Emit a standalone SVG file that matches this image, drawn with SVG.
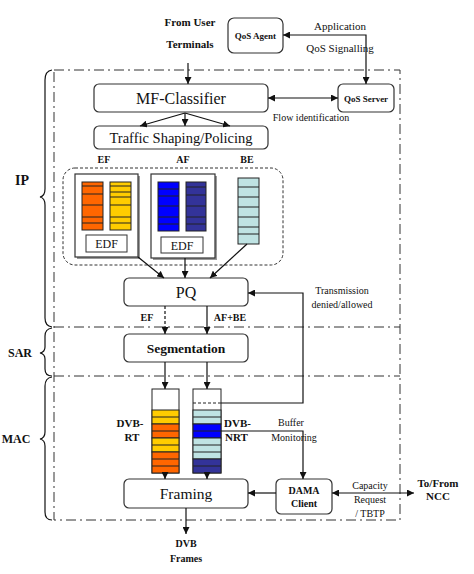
<svg xmlns="http://www.w3.org/2000/svg" width="474" height="574" viewBox="0 0 474 574" font-family="'Liberation Serif', 'Times New Roman', Times, 'DejaVu Serif', serif">
<style>
text{font-family:'Liberation Serif','Times New Roman',Times,'DejaVu Serif',serif;fill:#111;}
.b{font-weight:bold;}
.box{fill:#fff;stroke:#333;stroke-width:1.2;}
.ln{fill:none;stroke:#111;stroke-width:1.2;}
.q{stroke:#222;stroke-width:1;}
.div{fill:none;stroke:#333;stroke-width:1;stroke-dasharray:10,4,2,4;}
</style>
<defs>
<marker id="ah" viewBox="0 0 10 10" refX="10" refY="5" markerWidth="7" markerHeight="7" orient="auto-start-reverse" markerUnits="userSpaceOnUse">
<path d="M0,0 L10,5 L0,10 z" fill="#111"/>
</marker>
</defs>
<rect width="474" height="574" fill="#fff"/>

<g id="layers">
<rect x="54" y="70" width="346" height="450" class="div"/>
<line x1="54" y1="327" x2="400" y2="327" class="div"/>
<line x1="54" y1="376" x2="400" y2="376" class="div"/>
<path d="M52,70 Q45,71 45,80 L45,189 Q45,196 40,197 Q45,198 45,205 L45,318 Q45,326 52,327" class="ln" stroke-width="1"/>
<path d="M52,328 Q45,329 45,336 L45,347 Q45,352 40,353 Q45,354 45,359 L45,369 Q45,376 52,376" class="ln" stroke-width="1"/>
<path d="M52,377 Q45,378 45,386 L45,432 Q45,438 40,439 Q45,440 45,446 L45,512 Q45,520 52,520" class="ln" stroke-width="1"/>
<text x="22" y="185" class="b" font-size="14" text-anchor="middle">IP</text>
<text x="20" y="357" class="b" font-size="12" text-anchor="middle">SAR</text>
<text x="16" y="443" class="b" font-size="12" text-anchor="middle">MAC</text>
</g>

<g id="from-user">
<text x="190" y="26" class="b" font-size="11" text-anchor="middle">From User</text>
<text x="190" y="48" class="b" font-size="11" text-anchor="middle">Terminals</text>
</g>

<g id="qos-agent">
<rect x="228" y="18" width="55" height="35" rx="6" class="box"/>
<text x="255.5" y="39" class="b" font-size="9" text-anchor="middle">QoS Agent</text>
</g>

<g id="mf-classifier">
<rect x="94" y="84" width="174" height="28" rx="5" class="box"/>
<text x="181" y="104" font-size="16" text-anchor="middle">MF-Classifier</text>
</g>

<g id="qos-server">
<rect x="338" y="84" width="56" height="28" rx="5" class="box"/>
<text x="366" y="102" class="b" font-size="9" text-anchor="middle">QoS Server</text>
</g>

<g id="traffic-shaping">
<rect x="94" y="126" width="174" height="23" rx="5" class="box"/>
<text x="181" y="143" font-size="14.5" text-anchor="middle">Traffic Shaping/Policing</text>
</g>

<g id="classes">
<text x="104" y="163" class="b" font-size="10" text-anchor="middle">EF</text>
<text x="183" y="163" class="b" font-size="10" text-anchor="middle">AF</text>
<text x="247" y="163" class="b" font-size="10" text-anchor="middle">BE</text>
<rect x="63" y="168" width="220" height="97" rx="12" fill="none" stroke="#333" stroke-width="1" stroke-dasharray="3,2"/>
</g>

<g id="ef-queues">
<rect x="77" y="176" width="63" height="83" fill="#999"/>
<rect x="75" y="174" width="63" height="83" class="box"/>
<rect x="82" y="182" width="21" height="48" fill="#FF6600" class="q"/>
<path d="M82,186H103M82,194H103M82,205H103M82,217H103M82,223H103" class="q"/>
<rect x="110" y="182" width="21" height="48" fill="#FFCC00" class="q"/>
<path d="M110,186H131M110,192H131M110,197H131M110,205H131M110,217H131M110,223H131" class="q"/>
<rect x="86" y="235" width="41" height="17" fill="#fff" stroke="#333" stroke-width="1"/>
<text x="106.5" y="248" font-size="12" text-anchor="middle">EDF</text>
</g>

<g id="af-queues">
<rect x="153" y="176" width="64" height="84" fill="#999"/>
<rect x="151" y="174" width="64" height="84" class="box"/>
<rect x="158" y="182" width="21" height="49" fill="#0000FF" class="q"/>
<path d="M158,189H179M158,196H179M158,206H179M158,217H179M158,224H179" class="q"/>
<rect x="186" y="182" width="20" height="49" fill="#333399" class="q"/>
<path d="M186,187H206M186,195H206M186,206H206M186,217H206M186,224H206" class="q"/>
<rect x="161" y="237" width="42" height="16" fill="#fff" stroke="#333" stroke-width="1"/>
<text x="182" y="249.5" font-size="12" text-anchor="middle">EDF</text>
</g>

<g id="be-queue">
<rect x="238" y="178" width="21" height="66" fill="#BFE3E3" class="q"/>
<path d="M238,187H259M238,197H259M238,207H259M238,217H259M238,227H259M238,234H259" class="q"/>
</g>

<g id="pq">
<rect x="124" y="278" width="124" height="28" rx="5" class="box"/>
<text x="186" y="298" font-size="16" text-anchor="middle">PQ</text>
</g>

<g id="segmentation">
<rect x="124" y="334" width="124" height="28" rx="5" class="box"/>
<text x="186" y="353" class="b" font-size="13.5" text-anchor="middle">Segmentation</text>
</g>

<g id="dvb-rt">
<rect x="152" y="389" width="27" height="84" fill="#fff" class="q"/>
<rect x="152" y="410" width="27" height="14" fill="#FFCC00" class="q"/>
<rect x="152" y="424" width="27" height="14" fill="#FF6600" class="q"/>
<rect x="152" y="438" width="27" height="14" fill="#FFCC00" class="q"/>
<rect x="152" y="452" width="27" height="21" fill="#FF6600" class="q"/>
<path d="M152,417H179M152,431H179M152,445H179M152,459H179M152,466H179" class="q"/>
<text x="130" y="427" class="b" font-size="11" text-anchor="middle">DVB-</text>
<text x="132" y="441" class="b" font-size="11" text-anchor="middle">RT</text>
</g>

<g id="dvb-nrt">
<rect x="193" y="389" width="28" height="84" fill="#fff" class="q"/>
<line x1="193" y1="403" x2="221" y2="403" stroke="#222" stroke-dasharray="3,2"/>
<rect x="193" y="410" width="28" height="14" fill="#BFE3E3" class="q"/>
<rect x="193" y="424" width="28" height="14" fill="#0000FF" class="q"/>
<rect x="193" y="438" width="28" height="21" fill="#BFE3E3" class="q"/>
<rect x="193" y="459" width="28" height="14" fill="#333399" class="q"/>
<path d="M193,417H221M193,431H221M193,445H221M193,452H221M193,466H221" class="q"/>
<text x="224" y="427" class="b" font-size="11">DVB-</text>
<text x="225" y="441" class="b" font-size="11">NRT</text>
</g>

<g id="framing">
<rect x="124" y="479" width="124" height="29" rx="5" class="box"/>
<text x="186" y="499" font-size="15.5" text-anchor="middle">Framing</text>
</g>

<g id="dama-client">
<rect x="276" y="479" width="56" height="35" rx="5" class="box"/>
<text x="304" y="494" class="b" font-size="10" text-anchor="middle">DAMA</text>
<text x="304" y="507" class="b" font-size="10" text-anchor="middle">Client</text>
</g>

<g id="ncc">
<text x="438" y="487" class="b" font-size="11" text-anchor="middle">To/From</text>
<text x="438" y="500" class="b" font-size="11" text-anchor="middle">NCC</text>
</g>

<g id="dvb-frames">
<text x="186" y="547" class="b" font-size="10" text-anchor="middle">DVB</text>
<text x="186" y="562" class="b" font-size="10" text-anchor="middle">Frames</text>
</g>

<g id="connectors">
<line x1="188" y1="63" x2="188" y2="84" class="ln" marker-end="url(#ah)"/>
<path d="M366,84 L366,35 L283,35" class="ln" stroke-width="1.5" marker-start="url(#ah)" marker-end="url(#ah)"/>
<line x1="268" y1="98" x2="338" y2="98" class="ln" marker-start="url(#ah)" marker-end="url(#ah)"/>
<line x1="185" y1="113" x2="140" y2="126" class="ln" marker-end="url(#ah)"/>
<line x1="185" y1="113" x2="185" y2="126" class="ln" marker-end="url(#ah)"/>
<line x1="185" y1="113" x2="230" y2="126" class="ln" marker-end="url(#ah)"/>
<line x1="138" y1="257" x2="164" y2="278" class="ln" stroke-width="1" marker-end="url(#ah)"/>
<line x1="185" y1="258" x2="185" y2="278" class="ln" stroke-width="1" marker-end="url(#ah)"/>
<line x1="247" y1="244" x2="210" y2="278" class="ln" stroke-width="1" marker-end="url(#ah)"/>
<line x1="165" y1="306" x2="165" y2="334" class="ln" stroke-dasharray="3,2" marker-end="url(#ah)"/>
<line x1="207" y1="306" x2="207" y2="334" class="ln" marker-end="url(#ah)"/>
<line x1="165" y1="362" x2="165" y2="389" class="ln" marker-end="url(#ah)"/>
<line x1="207" y1="362" x2="207" y2="389" class="ln" marker-end="url(#ah)"/>
<line x1="165" y1="473" x2="165" y2="479" class="ln" marker-end="url(#ah)"/>
<line x1="207" y1="473" x2="207" y2="479" class="ln" marker-end="url(#ah)"/>
<path d="M221,403 L303,403 L303,293 L248,293" class="ln" marker-end="url(#ah)"/>
<path d="M221,431 L303,431 L303,479" class="ln" marker-end="url(#ah)"/>
<line x1="276" y1="493" x2="248" y2="493" class="ln" marker-end="url(#ah)"/>
<line x1="332" y1="493" x2="414" y2="493" class="ln" marker-start="url(#ah)" marker-end="url(#ah)"/>
<line x1="186" y1="508" x2="186" y2="534" class="ln" marker-end="url(#ah)"/>
<text x="340" y="30" font-size="11" text-anchor="middle">Application</text>
<text x="340" y="52" font-size="11" text-anchor="middle">QoS Signalling</text>
<text x="311" y="121" font-size="10" text-anchor="middle">Flow identification</text>
<text x="342" y="294" font-size="10" text-anchor="middle">Transmission</text>
<text x="342" y="308" font-size="10" text-anchor="middle">denied/allowed</text>
<text x="147" y="321" class="b" font-size="10" text-anchor="middle">EF</text>
<text x="230" y="321" class="b" font-size="10" text-anchor="middle">AF+BE</text>
<text x="291" y="426" font-size="10" text-anchor="middle">Buffer</text>
<text x="294" y="441" font-size="10" text-anchor="middle">Monitoring</text>
<text x="370" y="489" font-size="10" text-anchor="middle">Capacity</text>
<text x="370" y="503" font-size="10" text-anchor="middle">Request</text>
<text x="370" y="517" font-size="10" text-anchor="middle">/ TBTP</text>
</g>
</svg>
